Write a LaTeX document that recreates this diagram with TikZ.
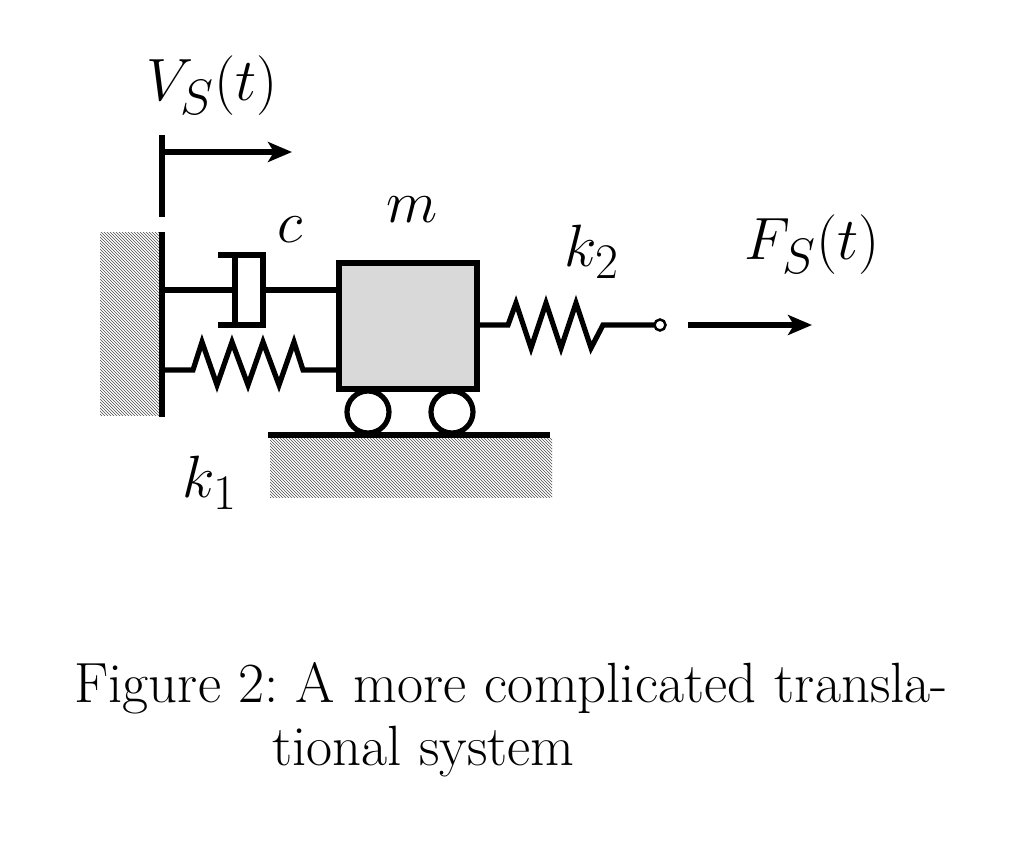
\documentclass[tikz,border=0pt]{standalone}
\usetikzlibrary{patterns,arrows.meta}
\newcommand{\mylbl}[1]{\scalebox{2.4}{\Huge$#1$}}
\newcommand{\mycap}[1]{\scalebox{2.28}{\Huge #1}}
\begin{document}
\begin{tikzpicture}[x=1pt,y=-1pt,line width=5.2pt,
  lbl/.style={inner sep=0pt},
  captxt/.style={anchor=west,inner sep=0pt},
  arr/.style={-{Stealth[length=24pt,width=20pt,inset=6pt]}}]
\useasboundingbox (0,0) rectangle (1024,845);
% wall
\fill[pattern=north west lines,pattern color=black!70] (100,232) rectangle (160,415);
\draw (162,232) coordinate (w1) -- (162,417) coordinate (w2);
% velocity marker
\draw (162,135) coordinate (v1) -- (162,217) coordinate (v2);
\coordinate (va) at (160,152); \coordinate (vb) at (292,152);
\draw[arr] (va) -- (vb);
\node[lbl] (vs) at (212,86) {\mylbl{V_S(t)}};
% damper
\coordinate (d0) at (162,290); \coordinate (d1) at (235,290);
\draw (d0) -- (d1);
\draw (218,255) -- (263,255) -- (263,325) -- (218,325);
\draw (235,255) -- (235,325);
\coordinate (d2) at (263,290); \coordinate (d3) at (338,290);
\draw (d2) -- (d3);
\node[lbl] (c) at (290,230) {\mylbl{c}};
% spring k1
\draw[line join=miter] (162,370) -- (193,370) -- (202,342) -- (217,385) -- (232,342) -- (248,385) -- (263,342) -- (279,385) -- (294,342) -- (303,370) -- (338,370);
\node[lbl] (k1) at (210,483) {\mylbl{k_1}};
% mass
\node[draw,fill=black!15,minimum width=138pt,minimum height=126pt,inner sep=0pt] (m) at (408,326) {};
\node[lbl] (ml) at (412,210) {\mylbl{m}};
% wheels
\draw (368,412) circle (21);
\draw (452,412) circle (21);
% ground
\draw (268,435) coordinate (g1) -- (550,435) coordinate (g2);
\fill[pattern=north west lines,pattern color=black!70] (270,438) rectangle (552,497);
% spring k2
\draw[line join=miter] (478,325) -- (508,325) -- (516,303) -- (531,348) -- (546,303) -- (561,348) -- (576,303) -- (591,348) -- (603,325) -- (654,325);
\node[draw,circle,line width=2.5pt,minimum size=11pt,inner sep=0pt,fill=white] (end) at (660,325) {};
\node[lbl] (k2) at (592,252) {\mylbl{k_2}};
% force
\coordinate (fa) at (688,325); \coordinate (fb) at (812,325);
\draw[arr] (fa) -- (fb);
\node[lbl] (fs) at (812,245) {\mylbl{F_S(t)}};
% caption
\node[captxt] (cap1) at (72,688) {\mycap{\makebox[383pt][s]{Figure 2:\ A\hfill more\hfill complicated\hfill transla-}}};
\node[captxt] (cap2) at (270,752) {\mycap{tional system}};
\end{tikzpicture}
\end{document}
